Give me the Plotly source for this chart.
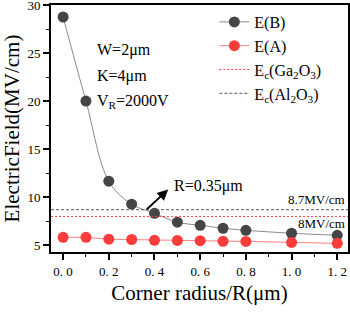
import plotly.graph_objects as go

radius = [0.0, 0.1, 0.2, 0.3, 0.4, 0.5, 0.6, 0.7, 0.8, 1.0, 1.2]
e_b = [28.75, 20.0, 11.67, 9.27, 8.33, 7.4, 7.08, 6.77, 6.56, 6.25, 6.04]
e_a = [5.83, 5.83, 5.63, 5.6, 5.52, 5.5, 5.48, 5.42, 5.4, 5.3, 5.2]
ec_ga2o3 = 8.0
ec_al2o3 = 8.7
x_range = [-0.053, 1.247]
y_range = [4.3, 30.0]
x_tickvals = [0.0, 0.2, 0.4, 0.6, 0.8, 1.0, 1.2]
x_ticktext = ["0. 0", "0. 2", "0. 4", "0. 6", "0. 8", "1. 0", "1. 2"]
y_tickvals = [5, 10, 15, 20, 25, 30]

FONT = "Liberation Serif, Times New Roman, serif"

fig = go.Figure()
fig.add_trace(go.Scatter(
    x=radius, y=e_b, mode="lines+markers", name="E(B)",
    line=dict(color="#8a8a8a", width=1, shape="spline", smoothing=1.0),
    marker=dict(color="#454545", size=11),
))
fig.add_trace(go.Scatter(
    x=radius, y=e_a, mode="lines+markers", name="E(A)",
    line=dict(color="#ff8080", width=1),
    marker=dict(color="#ff3c3c", size=11),
))
fig.add_trace(go.Scatter(
    x=x_range, y=[ec_ga2o3, ec_ga2o3], mode="lines",
    name="E<sub>c</sub>(Ga<sub>2</sub>O<sub>3</sub>)",
    line=dict(color="#ff4040", width=1, dash="2px,2px"),
))
fig.add_trace(go.Scatter(
    x=x_range, y=[ec_al2o3, ec_al2o3], mode="lines",
    name="E<sub>c</sub>(Al<sub>2</sub>O<sub>3</sub>)",
    line=dict(color="#555555", width=1, dash="3px,2px"),
))

anns = [
    dict(x=0.14, y=25.3, text="W=2μm"),
    dict(x=0.14, y=22.6, text="K=4μm"),
    dict(x=0.14, y=20.0, text="V<sub>R</sub>=2000V"),
]
for a in anns:
    fig.add_annotation(x=a["x"], y=a["y"], text=a["text"], showarrow=False,
                       xanchor="left", yanchor="middle",
                       font=dict(family=FONT, size=16, color="black"))

fig.add_annotation(x=0.46, y=10.8, ax=0.36, ay=8.6, axref="x", ayref="y",
                   text="", showarrow=True, arrowhead=2, arrowsize=1.2,
                   arrowwidth=1.8, arrowcolor="black")
fig.add_annotation(x=0.475, y=11.15, text="R=0.35μm", showarrow=False,
                   xanchor="left", yanchor="middle",
                   font=dict(family=FONT, size=16, color="black"))
fig.add_annotation(x=1.242, y=9.8, text="8.7MV/cm", showarrow=False,
                   xanchor="right", yanchor="middle",
                   font=dict(family=FONT, size=13, color="black"))
fig.add_annotation(x=1.242, y=7.3, text="8MV/cm", showarrow=False,
                   xanchor="right", yanchor="middle",
                   font=dict(family=FONT, size=13, color="black"))

fig.update_layout(
    width=350, height=314,
    margin=dict(l=51, r=2, t=5, b=62, autoexpand=False),
    paper_bgcolor="white", plot_bgcolor="white",
    font=dict(family=FONT, color="black"),
    showlegend=True,
    legend=dict(x=0.55, y=1.0, xanchor="left", yanchor="top",
                bgcolor="rgba(0,0,0,0)", font=dict(family=FONT, size=16),
                tracegroupgap=0),
)
fig.update_xaxes(
    range=x_range, tickvals=x_tickvals, ticktext=x_ticktext,
    automargin=False, ticklabeloverflow="allow",
    showline=True, linecolor="black", linewidth=2, mirror=True,
    ticks="outside", ticklen=6, tickwidth=1.5, tickcolor="black",
    minor=dict(dtick=0.1, ticks="outside", ticklen=3, tickwidth=1.2, tickcolor="black"),
    showgrid=False, zeroline=False,
    tickfont=dict(family=FONT, size=13),
    title=dict(text="Corner radius/R(μm)", font=dict(family=FONT, size=21), standoff=8),
)
fig.update_yaxes(
    range=y_range, tickvals=y_tickvals,
    automargin=False, ticklabeloverflow="allow",
    showline=True, linecolor="black", linewidth=2, mirror=True,
    ticks="outside", ticklen=6, tickwidth=1.5, tickcolor="black",
    minor=dict(dtick=2.5, ticks="outside", ticklen=3, tickwidth=1.2, tickcolor="black"),
    showgrid=False, zeroline=False,
    tickfont=dict(family=FONT, size=13),
    title=dict(text="ElectricField(MV/cm)", font=dict(family=FONT, size=21), standoff=4),
)

fig.write_html("out.html", config={"displayModeBar": False},
               post_script="document.body.style.margin='0px';document.body.style.padding='0px';")
